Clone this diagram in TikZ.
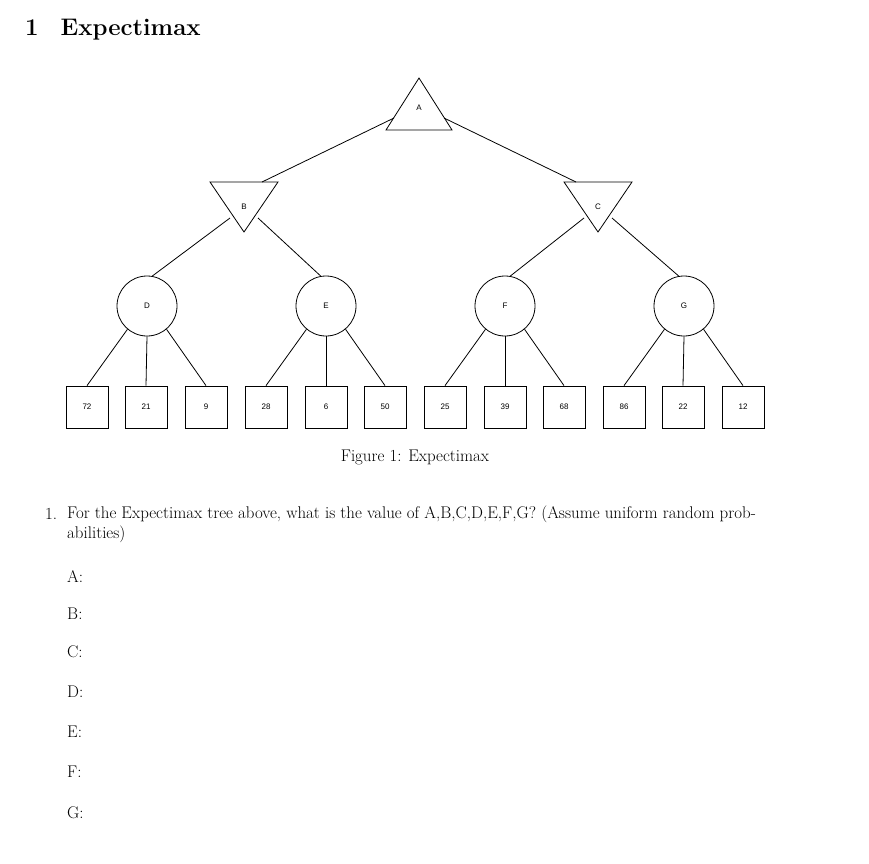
\documentclass[tikz,border=0pt]{standalone}
\usepackage{fontspec}
\newfontfamily\lab{Liberation Sans}
\begin{document}
\begin{tikzpicture}[x=1pt,y=-1pt,
  e/.style={line width=0.8pt},
  leaf/.style={draw,line width=0.8pt,minimum size=42pt,inner sep=0pt,font=\lab\fontsize{8}{9}\selectfont},
  chance/.style={draw,circle,line width=0.8pt,minimum size=60pt,inner sep=0pt,font=\lab\fontsize{8}{9}\selectfont},
  txt/.style={anchor=west,inner sep=0pt,font=\fontsize{16.9}{20}\selectfont}]
\useasboundingbox (0,0) rectangle (869,863);
\node[anchor=west,inner sep=0pt,font=\bfseries\fontsize{24}{28}\selectfont] (sec) at (25,30) {1\hspace{22pt}Expectimax};
\draw[e] (419,78) -- (452,130) -- (386,130) -- cycle;
\node[inner sep=0pt,font=\lab\fontsize{8}{9}\selectfont] (A) at (419,108) {A};
\draw[e] (210,182) -- (278,182) -- (244,232) -- cycle;
\node[inner sep=0pt,font=\lab\fontsize{8}{9}\selectfont] (B) at (244,207) {B};
\draw[e] (564,182) -- (632,182) -- (598,232) -- cycle;
\node[inner sep=0pt,font=\lab\fontsize{8}{9}\selectfont] (C) at (598,207) {C};
\coordinate (AL) at (394,118); \coordinate (AR) at (444,118);
\coordinate (BT) at (262,182); \coordinate (CT) at (576,182);
\coordinate (BL) at (230,218); \coordinate (BR) at (258,218);
\coordinate (CL) at (584,218); \coordinate (CR) at (612,218);
\draw[e] (AL) -- (BT); \draw[e] (AR) -- (CT);
\node[chance] (D) at (147,306) {D};
\node[chance] (E) at (326,306) {E};
\node[chance] (F) at (505,306) {F};
\node[chance] (G) at (684,306) {G};
\draw[e] (BL) -- (D.80); \draw[e] (BR) -- (E.100);
\draw[e] (CL) -- (F.80); \draw[e] (CR) -- (G.100);
\foreach \n/\x/\v in {l1/87/72,l2/146/21,l3/206/9,l4/266/28,l5/326/6,l6/385/50,l7/445/25,l8/505/39,l9/564/68,l10/624/86,l11/683/22,l12/743/12}
  \node[leaf] (\n) at (\x,407) {\v};
\foreach \p/\a/\b/\c in {D/l1/l2/l3,E/l4/l5/l6,F/l7/l8/l9,G/l10/l11/l12}{
  \draw[e] (\p.230) -- (\a.north);
  \draw[e] (\p.south) -- (\b.north);
  \draw[e] (\p.310) -- (\c.north);}
\node[inner sep=0pt,font=\fontsize{16.9}{20}\selectfont] (cap) at (415,457) {Figure 1: Expectimax};
\node[anchor=west,inner sep=0pt,font=\fontsize{16.9}{20}\selectfont] (n1) at (45,514) {1.};
\node[txt] (q1) at (67,514) {For the Expectimax tree above, what is the value of A,B,C,D,E,F,G? (Assume uniform random prob-};
\node[txt] (q2) at (67,534) {abilities)};
\foreach \l/\y in {A/577,B/614,C/652,D/692,E/732,F/772,G/813}
  \node[txt] (ans\l) at (67,\y) {\l:};
\end{tikzpicture}
\end{document}
